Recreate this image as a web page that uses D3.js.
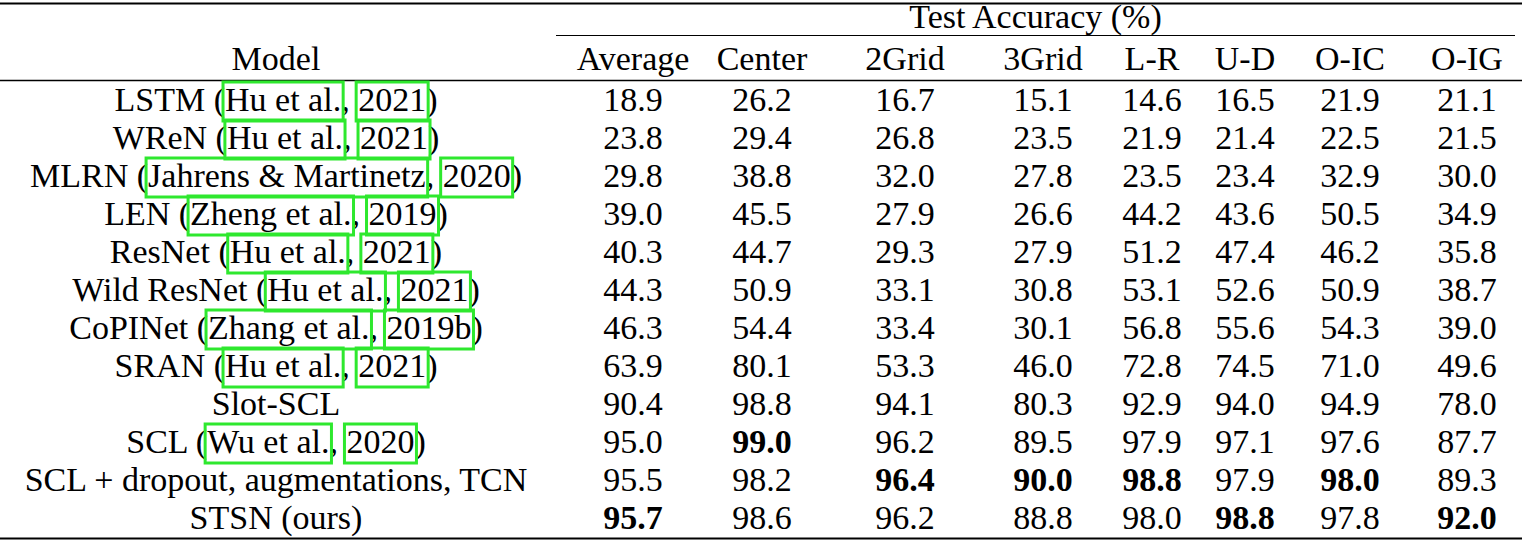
<!DOCTYPE html>
<html><head><meta charset="utf-8">
<script src="https://cdn.jsdelivr.net/npm/d3@7"></script>
<style>body{margin:0;background:#fff}svg{display:block}text{font-family:"Liberation Serif","Times New Roman",serif;font-size:34px;fill:#000}</style>
</head><body><svg></svg>
<script>
// table data
let columns = ['Average', 'Center', '2Grid', '3Grid', 'L-R', 'U-D', 'O-IC', 'O-IG'];
// model name pieces: [prefix, citation author, citation year, suffix]
let models = [
  ['LSTM (', 'Hu et al.', '2021', ')'],
  ['WReN (', 'Hu et al.', '2021', ')'],
  ['MLRN (', 'Jahrens & Martinetz', '2020', ')'],
  ['LEN (', 'Zheng et al.', '2019', ')'],
  ['ResNet (', 'Hu et al.', '2021', ')'],
  ['Wild ResNet (', 'Hu et al.', '2021', ')'],
  ['CoPINet (', 'Zhang et al.', '2019b', ')'],
  ['SRAN (', 'Hu et al.', '2021', ')'],
  ['Slot-SCL'],
  ['SCL (', 'Wu et al.', '2020', ')'],
  ['SCL + dropout, augmentations, TCN'],
  ['STSN (ours)']
];
let values = [
  [18.9, 26.2, 16.7, 15.1, 14.6, 16.5, 21.9, 21.1],
  [23.8, 29.4, 26.8, 23.5, 21.9, 21.4, 22.5, 21.5],
  [29.8, 38.8, 32.0, 27.8, 23.5, 23.4, 32.9, 30.0],
  [39.0, 45.5, 27.9, 26.6, 44.2, 43.6, 50.5, 34.9],
  [40.3, 44.7, 29.3, 27.9, 51.2, 47.4, 46.2, 35.8],
  [44.3, 50.9, 33.1, 30.8, 53.1, 52.6, 50.9, 38.7],
  [46.3, 54.4, 33.4, 30.1, 56.8, 55.6, 54.3, 39.0],
  [63.9, 80.1, 53.3, 46.0, 72.8, 74.5, 71.0, 49.6],
  [90.4, 98.8, 94.1, 80.3, 92.9, 94.0, 94.9, 78.0],
  [95.0, 99.0, 96.2, 89.5, 97.9, 97.1, 97.6, 87.7],
  [95.5, 98.2, 96.4, 90.0, 98.8, 97.9, 98.0, 89.3],
  [95.7, 98.6, 96.2, 88.8, 98.0, 98.8, 97.8, 92.0]
];
// bold cells: [row, col]
let bold = [[9, 1], [10, 2], [10, 3], [10, 4], [10, 6], [11, 0], [11, 5], [11, 7]];

let width = 1522, height = 543;
let svg = d3.select('svg').attr('width', width).attr('height', height);

let colCenters = [633, 762, 905, 1043, 1152, 1245, 1350, 1467];
let xScale = d3.scaleOrdinal().domain(columns).range(colCenters);
let yScale = d3.scaleBand().domain(d3.range(models.length)).range([80, 536]);
let modelX = 276;

// rules
let rule = (x1, x2, y, w) => svg.append('line').attr('x1', x1).attr('x2', x2)
  .attr('y1', y).attr('y2', y).attr('stroke', '#000').attr('stroke-width', w);
rule(0, width, 3.5, 2);
rule(556, 1515, 35.5, 1.2);
rule(0, width, 80.5, 1.5);
rule(0, width, 538.5, 2);

svg.append('text').attr('x', (556 + 1515) / 2).attr('y', 28).attr('text-anchor', 'middle').text('Test Accuracy (%)');
svg.append('text').attr('x', modelX).attr('y', 70).attr('text-anchor', 'middle').text('Model');
svg.selectAll('.colhead').data(columns).join('text').attr('class', 'colhead')
  .attr('x', d => xScale(d)).attr('y', 70).attr('text-anchor', 'middle').text(d => d);

let rowBase = i => yScale(i) + yScale.bandwidth() / 2 + 12;

// model names with citation boxes
models.forEach((m, i) => {
  let t = svg.append('text').attr('x', modelX).attr('y', rowBase(i)).attr('text-anchor', 'middle');
  if (m.length === 1) { t.text(m[0]); return; }
  let parts = [m[0], m[1], ', ', m[2], m[3]];
  let spans = parts.map(p => t.append('tspan').text(p));
  [spans[1], spans[3]].forEach(s => {
    let b = s.node().getBBox();
    svg.append('rect').attr('x', b.x - 2).attr('y', rowBase(i) - 29)
      .attr('width', b.width + 4).attr('height', 39)
      .attr('fill', 'none').attr('stroke', '#2ee82e').attr('stroke-width', 3);
  });
});

// value cells
let isBold = (r, c) => bold.some(b => b[0] === r && b[1] === c);
values.forEach((row, r) => {
  svg.selectAll('.r' + r).data(row).join('text').attr('class', 'r' + r)
    .attr('x', (d, c) => xScale(columns[c])).attr('y', rowBase(r))
    .attr('text-anchor', 'middle')
    .attr('font-weight', (d, c) => isBold(r, c) ? 'bold' : null)
    .text(d => d.toFixed(1));
});
</script></body></html>
